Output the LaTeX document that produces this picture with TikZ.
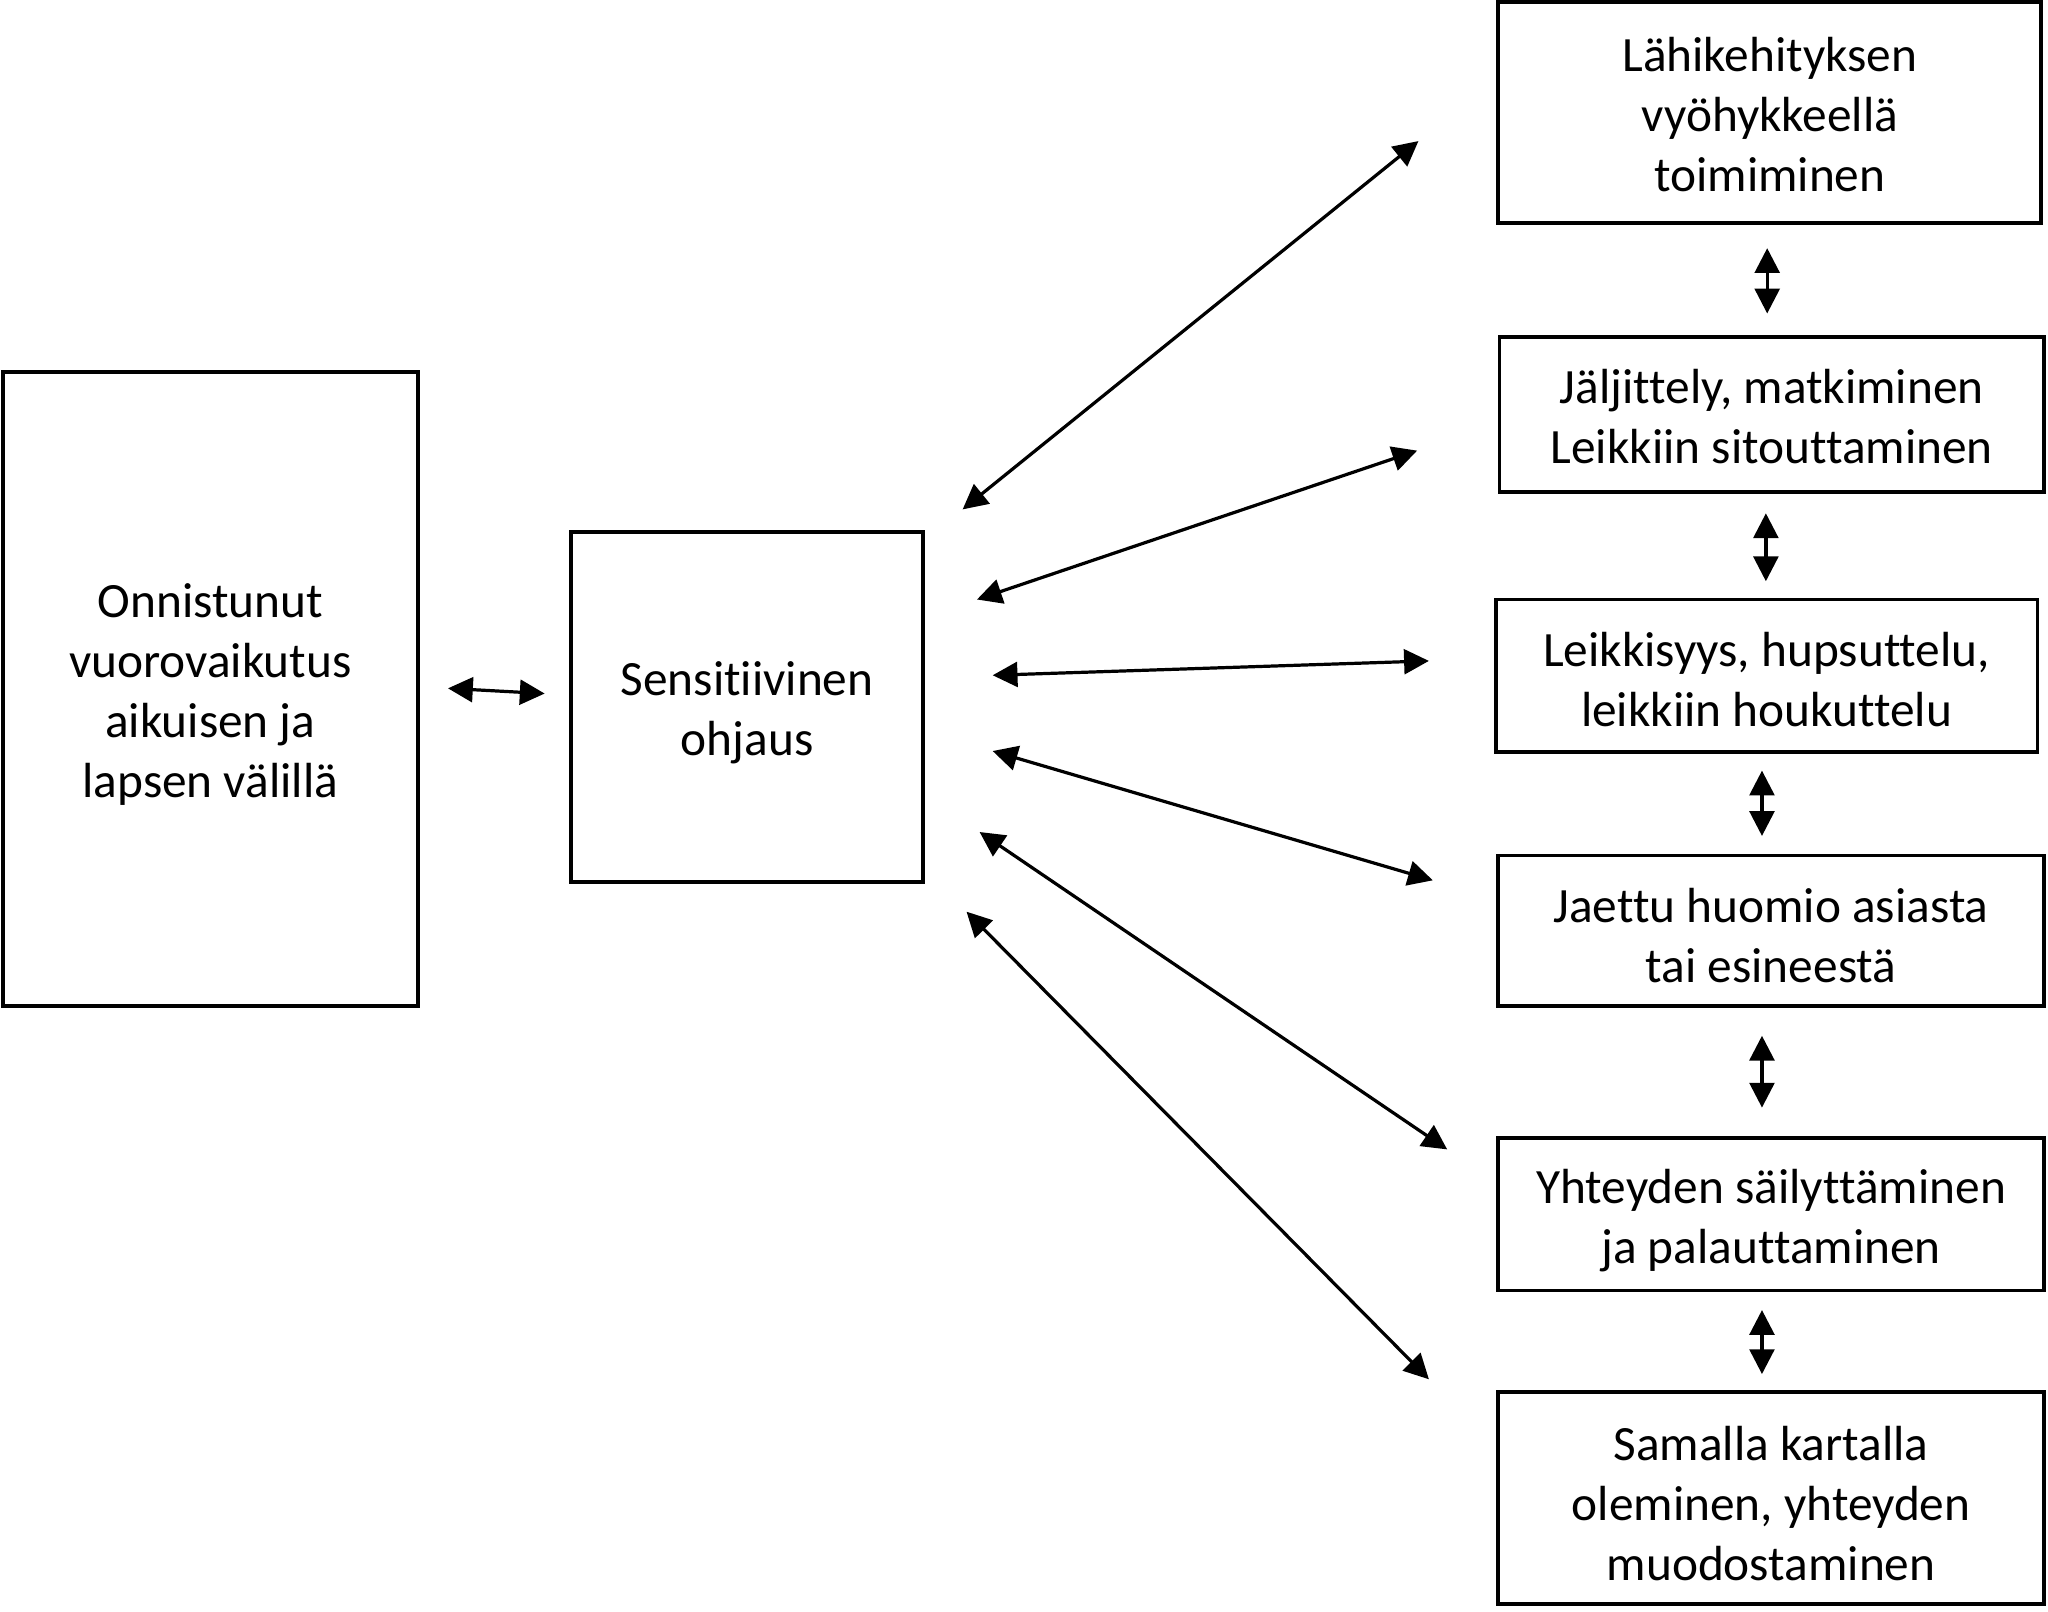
\documentclass[tikz,border=0pt]{standalone}
\usepackage{fontspec}
\setmainfont{Carlito}[Ligatures=NoCommon]
\usetikzlibrary{arrows.meta}
\begin{document}
\begin{tikzpicture}[x=0.02cm,y=-0.02cm,
  box/.style={draw, line width=1.7pt, inner sep=0pt},
  txt/.style={align=center, inner sep=0pt, font=\fontsize{21.5}{26.2}\selectfont},
  biarrow/.style={{Triangle[length=0.38cm,width=0.38cm]}-{Triangle[length=0.38cm,width=0.38cm]}, line width=1.4pt}]
\useasboundingbox (0,0) rectangle (1568,1234);
% boxes
\node[box, minimum width=6.36cm, minimum height=9.7cm] (L) at (161,527.5) {};
\node[box, minimum width=5.4cm, minimum height=5.36cm] (M) at (572,541) {};
\node[box, minimum width=8.32cm, minimum height=3.38cm] (R1) at (1355,86) {};
\node[box, minimum width=8.34cm, minimum height=2.38cm] (R2) at (1356.5,317.5) {};
\node[box, minimum width=8.3cm, minimum height=2.34cm] (R3) at (1352.5,517.5) {};
\node[box, minimum width=8.36cm, minimum height=2.3cm] (R4) at (1356,712.5) {};
\node[box, minimum width=8.36cm, minimum height=2.34cm] (R5) at (1356,929.5) {};
\node[box, minimum width=8.36cm, minimum height=3.24cm] (R6) at (1356,1147) {};
% texts
\node[txt] (Lt) at ([yshift=-0.08cm]L.center) {Onnistunut\\vuorovaikutus\\aikuisen ja\\lapsen välillä};
\node[txt] (Mt) at ([yshift=-0.09cm]M.center) {Sensitiivinen\\ohjaus};
\node[txt] (R1t) at ([yshift=-0.03cm]R1.center) {Lähikehityksen\\vyöhykkeellä\\toimiminen};
\node[txt] (R2t) at ([yshift=-0.03cm]R2.center) {Jäljittely, matkiminen\\Leikkiin sitouttaminen};
\node[txt] (R3t) at ([yshift=-0.05cm]R3.center) {Leikkisyys, hupsuttelu,\\leikkiin houkuttelu};
\node[txt] (R4t) at ([yshift=-0.08cm]R4.center) {Jaettu huomio asiasta\\tai esineestä};
\node[txt] (R5t) at ([yshift=-0.1cm]R5.center) {Yhteyden säilyttäminen\\ja palauttaminen};
\node[txt] (R6t) at ([yshift=-0.08cm]R6.center) {Samalla kartalla\\oleminen, yhteyden\\muodostaminen};
% connector end points
\coordinate (lm1) at (343,527);  \coordinate (lm2) at (417,531);
\coordinate (f1a) at (737,390);  \coordinate (f1b) at (1086,108);
\coordinate (f2a) at (748,459);  \coordinate (f2b) at (1085,345);
\coordinate (f3a) at (760,517);  \coordinate (f3b) at (1094,506);
\coordinate (f4a) at (760,575);  \coordinate (f4b) at (1097,674);
\coordinate (f5a) at (750,637);  \coordinate (f5b) at (1108,880);
\coordinate (f6a) at (740,698);  \coordinate (f6b) at (1094,1056);
\coordinate (v1a) at (1353,190); \coordinate (v1b) at (1353,240);
\coordinate (v2a) at (1352,393); \coordinate (v2b) at (1352,445);
\coordinate (v3a) at (1349,590); \coordinate (v3b) at (1349,640);
\coordinate (v4a) at (1349,793); \coordinate (v4b) at (1349,848);
\coordinate (v5a) at (1349,1003);\coordinate (v5b) at (1349,1052);
% connectors
\draw[biarrow] (lm1) -- (lm2);
\draw[biarrow] (f1a) -- (f1b);
\draw[biarrow] (f2a) -- (f2b);
\draw[biarrow] (f3a) -- (f3b);
\draw[biarrow] (f4a) -- (f4b);
\draw[biarrow] (f5a) -- (f5b);
\draw[biarrow] (f6a) -- (f6b);
\draw[biarrow] (v1a) -- (v1b);
\draw[biarrow] (v2a) -- (v2b);
\draw[biarrow] (v3a) -- (v3b);
\draw[biarrow] (v4a) -- (v4b);
\draw[biarrow] (v5a) -- (v5b);
\end{tikzpicture}
\end{document}
